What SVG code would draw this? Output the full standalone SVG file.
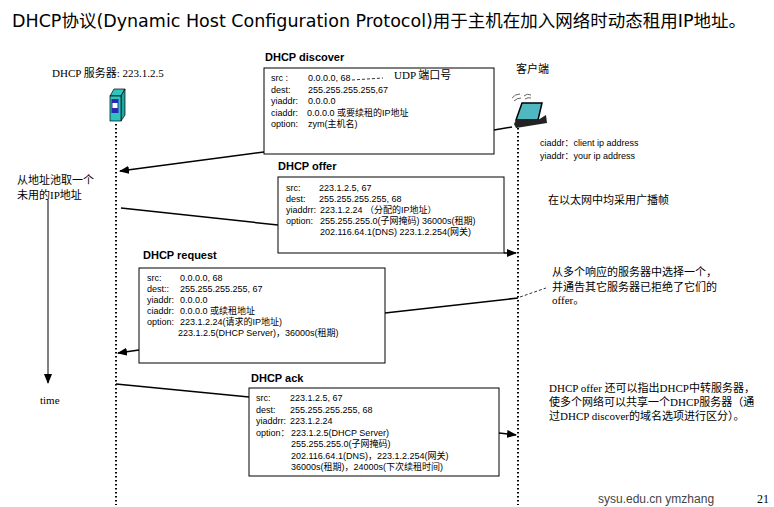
<svg xmlns="http://www.w3.org/2000/svg" width="774" height="507" viewBox="0 0 774 507">
<defs>
<marker id="ah" markerWidth="10" markerHeight="8" refX="9" refY="4" orient="auto" markerUnits="userSpaceOnUse"><path d="M0,0 L10,4 L0,8 z" fill="#000"/></marker>
</defs>
<style>
.s{font-family:"Liberation Sans","Noto Sans CJK SC",sans-serif;font-size:9px;fill:#000}
.h{font-family:"Liberation Sans",sans-serif;font-size:11px;font-weight:bold;fill:#000}
.r{font-family:"Liberation Serif","Noto Sans CJK SC",serif;font-size:11px;fill:#000}
.box{fill:#fff;stroke:#000;stroke-width:1}
.ln{stroke:#000;stroke-width:1.5;fill:none}
.dot{stroke:#000;stroke-width:2;stroke-dasharray:1.5 2.5}
</style>
<rect width="774" height="507" fill="#fff"/>
<text x="12" y="27" font-family="DejaVu Sans,Noto Sans CJK SC,sans-serif" font-size="17" textLength="734" lengthAdjust="spacingAndGlyphs">DHCP协议(Dynamic Host Configuration Protocol)用于主机在加入网络时动态租用IP地址。</text>
<g id="server">
<text x="52" y="77" class="r">DHCP 服务器: 223.1.2.5</text>
<polygon points="110,96 114,89 125,89 121,96" fill="#2cc5c0" stroke="#000" stroke-width="0.7"/>
<polygon points="121,96 125,89 125,115 121,121" fill="#1ea7a3" stroke="#000" stroke-width="0.7"/>
<rect x="110" y="96" width="11" height="25" fill="#2cc5c0" stroke="#000" stroke-width="0.7"/>
<rect x="111.5" y="99" width="7" height="14" fill="#2a2ab0"/>
<rect x="112.5" y="103" width="5" height="5" fill="#fff"/>
<line x1="116" y1="124" x2="116" y2="505" class="dot"/>
</g>
<g id="client">
<text x="516" y="73" class="r">客户端</text>
<path d="M512,98 q3,-4 8,-4 M514,101 q3,-3 7,-3 M524,96 q3,-3 7,-1 M525,99 q3,-2 6,-1" stroke="#666" fill="none"/>
<polygon points="522,103 542,103 538,120 516,120" fill="#4fb8c0" stroke="#000" stroke-width="1.5"/>
<polygon points="516,120 538,120 546,115 547,123 516,128 514,124" fill="#222"/>
<line x1="518" y1="128" x2="518" y2="505" class="dot"/>
<text x="540" y="146" class="s" font-size="10.5">ciaddr：client ip address</text>
<text x="540" y="159" class="s" font-size="10.5">yiaddr：your ip address</text>
</g>
<g id="discover">
<text x="265" y="61" class="h">DHCP discover</text>
<rect x="264" y="68" width="230" height="86" class="box"/>
<text class="s"><tspan x="271" y="81">src :</tspan><tspan x="271" y="93">dest:</tspan><tspan x="271" y="104">yiaddr:</tspan><tspan x="271" y="116">ciaddr:</tspan><tspan x="271" y="127">option:</tspan></text>
<text class="s"><tspan x="308" y="81">0.0.0.0, 68</tspan><tspan x="308" y="93">255.255.255.255,67</tspan><tspan x="308" y="104">0.0.0.0</tspan><tspan x="307" y="116">0.0.0.0 或要续租的IP地址</tspan><tspan x="308" y="127">zym(主机名)</tspan></text>
<line x1="352" y1="80" x2="383" y2="78" stroke="#000" stroke-width="0.8" stroke-dasharray="3 2"/>
<text x="394" y="79" class="r">UDP 端口号</text>
</g>
<g id="offer">
<text x="278" y="170" class="h">DHCP offer</text>
<rect x="278" y="177" width="226" height="76" class="box"/>
<text class="s"><tspan x="286" y="191">src:</tspan><tspan x="286" y="202">dest:</tspan><tspan x="286" y="213">yiaddrr:</tspan><tspan x="286" y="224">option:</tspan></text>
<text class="s"><tspan x="319" y="191">223.1.2.5, 67</tspan><tspan x="319" y="202">255.255.255.255, 68</tspan><tspan x="320" y="213">223.1.2.24 （分配的IP地址）</tspan><tspan x="320" y="224">255.255.255.0(子网掩码) 36000s(租期)</tspan><tspan x="320" y="235">202.116.64.1(DNS) 223.1.2.254(网关)</tspan></text>
</g>
<g id="request">
<text x="143" y="259" class="h">DHCP request</text>
<rect x="139" y="268" width="246" height="95" class="box"/>
<text class="s"><tspan x="147" y="281">src:</tspan><tspan x="147" y="292">dest::</tspan><tspan x="147" y="303">yiaddr:</tspan><tspan x="147" y="314">ciaddr:</tspan><tspan x="147" y="325">option:</tspan></text>
<text class="s"><tspan x="180" y="281">0.0.0.0, 68</tspan><tspan x="180" y="292">255.255.255.255, 67</tspan><tspan x="180" y="303">0.0.0.0</tspan><tspan x="180" y="314">0.0.0.0 或续租地址</tspan><tspan x="180" y="325">223.1.2.24(请求的IP地址)</tspan><tspan x="178" y="336">223.1.2.5(DHCP Server)，36000s(租期)</tspan></text>
</g>
<g id="ack">
<text x="251" y="382" class="h">DHCP ack</text>
<rect x="249" y="388" width="250" height="88" class="box"/>
<text class="s"><tspan x="256" y="401">src:</tspan><tspan x="256" y="413">dest:</tspan><tspan x="256" y="424">yiaddrr:</tspan><tspan x="256" y="436">option：</tspan></text>
<text class="s"><tspan x="290" y="401">223.1.2.5, 67</tspan><tspan x="290" y="413">255.255.255.255, 68</tspan><tspan x="290" y="424">223.1.2.24</tspan><tspan x="291" y="436">223.1.2.5(DHCP Server)</tspan><tspan x="291" y="447">255.255.255.0(子网掩码)</tspan><tspan x="291" y="459">202.116.64.1(DNS)，223.1.2.254(网关)</tspan><tspan x="291" y="470">36000s(租期)，24000s(下次续租时间)</tspan></text>
</g>
<g id="notes">
<text class="r"><tspan x="17" y="184">从地址池取一个</tspan><tspan x="17" y="199">未用的IP地址</tspan></text>
<text x="548" y="204" class="r">在以太网中均采用广播帧</text>
<text class="r"><tspan x="552" y="276">从多个响应的服务器中选择一个，</tspan><tspan x="552" y="291">并通告其它服务器已拒绝了它们的</tspan><tspan x="552" y="304">offer。</tspan></text>
<text class="r"><tspan x="549" y="392">DHCP offer 还可以指出DHCP中转服务器，</tspan><tspan x="549" y="406">使多个网络可以共享一个DHCP服务器（通</tspan><tspan x="549" y="420">过DHCP discover的域名选项进行区分）。</tspan></text>
<text x="40" y="404" class="r" font-size="10">time</text>
<text x="598" y="503" font-family="Liberation Sans,sans-serif" font-size="12" fill="#444">sysu.edu.cn ymzhang</text>
<text x="757" y="503" font-family="Liberation Serif,serif" font-size="12">21</text>
</g>
<g id="connectors">
<line x1="494" y1="130" x2="512" y2="127" class="ln"/>
<line x1="264" y1="152" x2="120" y2="171" class="ln" marker-end="url(#ah)"/>
<line x1="121" y1="208" x2="278" y2="225" class="ln"/>
<line x1="504" y1="253" x2="516" y2="253" class="ln" marker-end="url(#ah)"/>
<line x1="518" y1="298" x2="385" y2="313" class="ln"/>
<line x1="139" y1="350" x2="118" y2="353" class="ln" marker-end="url(#ah)"/>
<line x1="116" y1="384" x2="249" y2="397" class="ln"/>
<line x1="499" y1="433" x2="516" y2="435" class="ln" marker-end="url(#ah)"/>
<line x1="520" y1="297" x2="546" y2="288" stroke="#000" stroke-width="0.8" stroke-dasharray="3 2"/>
<line x1="48" y1="200" x2="48" y2="383" stroke="#000" stroke-width="1" marker-end="url(#ah)"/>
</g>
</svg>
